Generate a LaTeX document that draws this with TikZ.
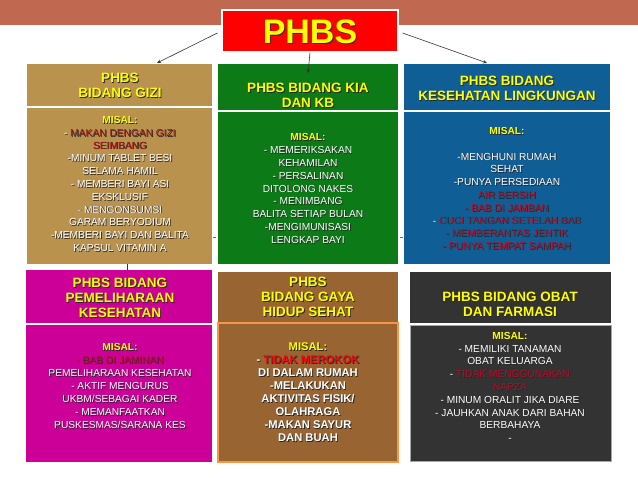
\documentclass[tikz,border=0pt]{standalone}
\usepackage{fontspec}
\setmainfont{Liberation Sans}
\usetikzlibrary{arrows.meta}

\definecolor{fascia}{RGB}{192,104,80}
\definecolor{gizi}{RGB}{185,146,78}
\definecolor{kia}{RGB}{12,122,22}
\definecolor{lingk}{RGB}{16,94,150}
\definecolor{pemel}{RGB}{204,0,153}
\definecolor{gaya}{RGB}{152,100,50}
\definecolor{obat}{RGB}{51,51,51}
\definecolor{giallo}{RGB}{255,255,0}
\definecolor{rosso}{RGB}{168,20,24}
\definecolor{cremisi}{RGB}{176,16,40}
\definecolor{vivo}{RGB}{240,10,10}
\definecolor{bordo}{RGB}{247,150,70}

% testo con ombra
\newif\ifombra
\newcommand\rosa[2][rosso]{\ifombra#2\else\textcolor{#1}{#2}\fi}
\newcommand\misal{\textbf{\ifombra MISAL:\else\textcolor{giallo}{MISAL:}\fi}}
\newcommand\testo[4]{%
  \ombratrue
  \node[#3, text=black!85, xshift=0.8pt, yshift=-0.8pt] (#1-ombra) at #2 {#4};
  \ombrafalse
  \node[#3] (#1) at #2 {#4};}

\begin{document}
\begin{tikzpicture}[x=1pt, y=-1pt,
    testa/.style={align=center, text=giallo, font=\bfseries\fontsize{13.5}{15}\selectfont},
    corpo/.style={align=center, text=white, font=\fontsize{10.2}{12.8}\selectfont},
    >={Stealth[length=4pt, width=3.5pt]}]
    \useasboundingbox (0,0) rectangle (638,478);

    % Fascia e titolo
    \fill[fascia] (0,0) rectangle (638,25);
    \node[fill=red, draw=white, line width=1.2pt, minimum width=176pt, minimum height=42pt, inner sep=0pt] (box-titolo) at (310,31) {};
    \testo{titolo}{(310,32)}{text=giallo, font=\bfseries\fontsize{34}{36}\selectfont, inner sep=0pt}{PHBS}

    % Riquadri in alto
    \fill[gizi] (27,64) rectangle (212,106);
    \fill[gizi] (27,108) rectangle (212,264);
    \fill[kia] (218,64) rectangle (398,110);
    \fill[kia] (218,112) rectangle (398,264);
    \fill[lingk] (404,64) rectangle (610,110);
    \fill[lingk] (404,112) rectangle (610,264);

    % Riquadri in basso
    \fill[pemel] (26,270) rectangle (212,323);
    \fill[pemel] (26,325) rectangle (212,462);
    \fill[gaya] (218,272) rectangle (398,322);
    \filldraw[fill=gaya, draw=bordo, line width=1.2pt] (218,323) rectangle (398,462);
    \fill[obat] (410,272) rectangle (611,323);
    \filldraw[fill=obat, draw=gray!70, line width=0.6pt] (410,325) rectangle (611,461);

    % Frecce
    \coordinate (punta-gizi) at (157,63);
    \coordinate (punta-kia) at (308,73);
    \coordinate (punta-lingk) at (487,63);
    \draw[->, black!80, line width=0.6pt] ([xshift=-4pt, yshift=-2pt]box-titolo.west) -- (punta-gizi);
    \draw[->, black!80, line width=0.6pt] (box-titolo.south) -- (punta-kia);
    \draw[->, black!80, line width=0.6pt] ([xshift=4pt, yshift=-2pt]box-titolo.east) -- (punta-lingk);

    % Segni sparsi
    \draw[black!60, line width=0.8pt] (213,237) -- (216,237);
    \draw[black!60, line width=0.8pt] (400,237) -- (403,237);
    \draw[black!80, line width=0.5pt] (127,264) -- (127,270);

    % Intestazioni
    \testo{h-gizi}{(120,85.5)}{testa}{PHBS\\BIDANG GIZI}
    \testo{h-kia}{(308,95.5)}{testa}{PHBS BIDANG KIA\\DAN KB}
    \testo{h-lingk}{(507,88.3)}{testa}{PHBS BIDANG\\KESEHATAN LINGKUNGAN}
    \testo{h-pemel}{(120,298)}{testa}{PHBS BIDANG\\PEMELIHARAAN\\KESEHATAN}
    \testo{h-gaya}{(308,297)}{testa}{PHBS\\BIDANG GAYA\\HIDUP SEHAT}
    \testo{h-obat}{(510,304.5)}{testa}{PHBS BIDANG OBAT\\DAN FARMASI}

    % Esempi
    \testo{c-gizi}{(120,184)}{corpo}{\misal\\- \rosa{MAKAN DENGAN GIZI}\\\rosa{SEIMBANG}\\-MINUM TABLET BESI\\SELAMA HAMIL\\- MEMBERI BAYI ASI\\EKSKLUSIF\\- MENGONSUMSI\\GARAM BERYODIUM\\-MEMBERI BAYI DAN BALITA\\KAPSUL VITAMIN A}
    \testo{c-kia}{(308,188.5)}{corpo}{\misal\\- MEMERIKSAKAN\\KEHAMILAN\\- PERSALINAN\\DITOLONG NAKES\\- MENIMBANG\\BALITA SETIAP BULAN\\-MENGIMUNISASI\\LENGKAP BAYI}
    \testo{c-lingk}{(507,188.5)}{corpo}{\misal\\[12.8pt]-MENGHUNI RUMAH\\SEHAT\\-PUNYA PERSEDIAAN\\\rosa[cremisi]{AIR BERSIH}\\\rosa[cremisi]{- BAB DI JAMBAN}\\- \rosa[cremisi]{CUCI TANGAN SETELAH BAB}\\\rosa[cremisi]{- MEMBERANTAS JENTIK}\\\rosa[cremisi]{- PUNYA TEMPAT SAMPAH}}
    \testo{c-pemel}{(120,386)}{corpo, font=\fontsize{10.2}{13}\selectfont}{\misal\\\rosa[cremisi]{- BAB DI JAMINAN}\\PEMELIHARAAN KESEHATAN\\- AKTIF MENGURUS\\UKBM/SEBAGAI KADER\\- MEMANFAATKAN\\PUSKESMAS/SARANA KES}
    \testo{c-gaya}{(308,392.5)}{corpo, font=\bfseries\fontsize{11.2}{13}\selectfont}{\misal\\- \rosa[vivo]{TIDAK MEROKOK}\\DI DALAM RUMAH\\-MELAKUKAN\\AKTIVITAS FISIK/\\OLAHRAGA\\-MAKAN SAYUR\\DAN BUAH}
    \testo{c-obat}{(510,387)}{corpo}{\misal\\- MEMILIKI TANAMAN\\OBAT KELUARGA\\- \rosa[cremisi]{TIDAK MENGGUNAKAN}\\\rosa[cremisi]{NAPZA}\\- MINUM ORALIT JIKA DIARE\\- JAUHKAN ANAK DARI BAHAN\\BERBAHAYA\\-}
\end{tikzpicture}
\end{document}
